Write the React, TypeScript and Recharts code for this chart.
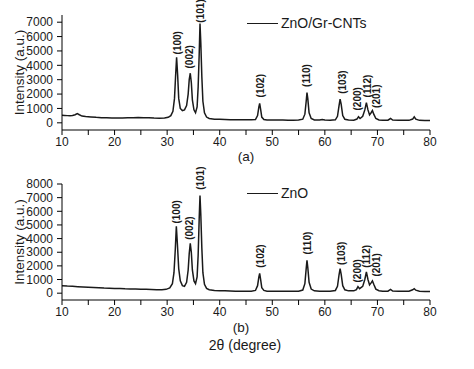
import React from 'react';
import { LineChart, Line, XAxis, YAxis, ReferenceDot, Legend } from 'recharts';

// 2θ positions and intensities (a) ZnO/Gr-CNTs
const twoThetaA = [
  10, 10.5, 11, 11.5, 12, 12.5, 12.9, 13.3, 13.8, 14.5, 15.5, 16.5, 17.5, 18.5, 19.5, 20.5, 21.5, 22.5, 23.5, 24.5,
  25.5, 26.5, 27.5, 28.5, 29.5, 30.2, 30.7, 31.1, 31.4, 31.6, 31.8, 32, 32.2, 32.5, 32.9, 33.3, 33.7, 34, 34.2, 34.4,
  34.6, 34.8, 35.1, 35.4, 35.7, 35.9, 36.1, 36.25, 36.4, 36.6, 36.8, 37.1, 37.5, 38, 39, 40, 41, 42, 43, 44,
  45, 46, 46.8, 47.2, 47.45, 47.6, 47.8, 48, 48.4, 49, 50, 51, 52, 53, 54, 55, 55.8, 56.2, 56.45, 56.6,
  56.75, 57, 57.4, 58, 59, 59.5, 60, 61, 62, 62.4, 62.7, 62.9, 63.1, 63.4, 63.8, 64.5, 65.5, 66.1, 66.4, 66.7,
  67.2, 67.6, 67.9, 68.2, 68.5, 68.8, 69.05, 69.3, 69.7, 70.3, 71, 72, 72.5, 72.9, 74, 75, 76, 76.7, 77, 77.3,
  78, 79, 80,
];
const intensityA = [
  520, 510, 500, 490, 510, 560, 640, 560, 470, 440, 410, 380, 360, 350, 340, 330, 340, 350, 360, 370,
  360, 350, 330, 320, 330, 380, 500, 800, 1700, 3200, 4550, 3300, 1700, 1000, 850, 900, 1200, 2000, 3000, 3450,
  2800, 1600, 900, 700, 1100, 2500, 4800, 6900, 5600, 3200, 1500, 700, 400, 300, 250, 240, 230, 220, 215, 210,
  210, 205, 230, 500, 1100, 1350, 900, 400, 230, 200, 195, 190, 190, 185, 185, 190, 250, 600, 1500, 2100,
  1700, 700, 300, 200, 190, 230, 190, 180, 210, 450, 1200, 1650, 1300, 500, 250, 190, 185, 260, 420, 300,
  450, 900, 1400, 900, 550, 700, 850, 600, 300, 200, 180, 180, 300, 190, 170, 170, 170, 260, 420, 250,
  170, 160, 160,
];

// panel (b) ZnO
const twoThetaB = [
  10, 11, 12, 13, 14, 15, 16, 17, 18, 19, 20, 21, 22, 23, 24, 25, 26, 27, 28, 29,
  29.8, 30.5, 31, 31.3, 31.55, 31.75, 31.95, 32.2, 32.5, 32.9, 33.3, 33.7, 34, 34.2, 34.4, 34.6, 34.8, 35.1, 35.4, 35.7,
  35.9, 36.1, 36.25, 36.4, 36.6, 36.8, 37.1, 37.5, 38, 39, 40, 41, 42, 43, 44, 45, 46, 46.8, 47.2, 47.45,
  47.6, 47.8, 48, 48.4, 49, 50, 51, 52, 53, 54, 55, 55.8, 56.2, 56.45, 56.6, 56.75, 57, 57.4, 58, 59,
  60, 61, 62, 62.4, 62.7, 62.9, 63.1, 63.4, 63.8, 64.5, 65.5, 66, 66.3, 66.6, 67.2, 67.6, 67.9, 68.2, 68.5, 68.8,
  69.05, 69.3, 69.7, 70.3, 71, 72, 72.5, 72.9, 74, 75, 76, 76.7, 77, 77.3, 78, 79, 80,
];
const intensityB = [
  550, 520, 500, 480, 460, 440, 420, 400, 380, 370, 350, 340, 320, 310, 300, 290, 280, 270, 260, 260,
  280, 380, 700, 1500, 3200, 4900, 3600, 1800, 900, 550, 500, 800, 1700, 2900, 3650, 3000, 1700, 900, 700, 1200,
  2800, 5500, 7150, 5800, 3300, 1500, 650, 350, 250, 200, 180, 170, 160, 150, 150, 150, 150, 200, 550, 1200,
  1450, 950, 400, 200, 150, 140, 140, 135, 135, 140, 145, 230, 700, 1800, 2400, 1900, 800, 300, 170, 150,
  150, 150, 200, 500, 1350, 1800, 1400, 550, 250, 170, 170, 260, 480, 330, 500, 1000, 1550, 1000, 600, 750,
  900, 650, 300, 180, 150, 150, 280, 160, 140, 140, 150, 250, 330, 220, 140, 130, 130,
];

// peak labels: Miller index, 2θ of label, intensity at label base
const hklNames = ['(100)', '(002)', '(101)', '(102)', '(110)', '(103)', '(200)', '(112)', '(201)'];
const labelThetaA = [31.9, 34.2, 36.4, 47.8, 56.6, 63.4, 66.3, 68.15, 69.9];
const labelIntensityA = [4690, 3710, 6900, 1700, 2430, 1950, 790, 1700, 970];
const labelThetaB = [31.8, 34.2, 36.4, 47.8, 56.7, 63.1, 66.3, 68.0, 69.9];
const labelIntensityB = [5030, 3840, 7500, 1790, 2760, 2000, 710, 1790, 1145];

const xTicks = [10, 15, 20, 25, 30, 35, 40, 45, 50, 55, 60, 65, 70, 75, 80];
const yTicksA = [0, 1000, 2000, 3000, 4000, 5000, 6000, 7000];
const yTicksB = [0, 1000, 2000, 3000, 4000, 5000, 6000, 7000, 8000];

const dataA = twoThetaA.map((x, i) => ({ x, y: intensityA[i] }));
const dataB = twoThetaB.map((x, i) => ({ x, y: intensityB[i] }));

const FONT = '"Liberation Sans", Arial, sans-serif';
const INK = '#1a1a1a';

const PeakLabel = (text: string) => (props: any) => {
  const { x, y } = props.viewBox;
  return (
    <text x={x} y={y - 1} dy="0.35em" transform={`rotate(-90 ${x} ${y - 1})`} fontSize={10}
      fontWeight="bold" fill={INK} textAnchor="start" fontFamily={FONT}>
      {text}
    </text>
  );
};

const YTitle = (props: any) => {
  const { x, y, height } = props.viewBox;
  const cx = x + 19;
  const cy = y + height / 2;
  return (
    <text x={cx} y={cy} dy="0.35em" transform={`rotate(-90 ${cx} ${cy})`} textAnchor="middle"
      fontSize={13.5} fill={INK} fontFamily={FONT}>
      Intensity (a.u.)
    </text>
  );
};

const SeriesLegend = (name: string) => () => (
  <div style={{ display: 'flex', alignItems: 'center', fontFamily: FONT, fontSize: 14, color: INK, lineHeight: '16px' }}>
    <span style={{ display: 'inline-block', width: 31, borderTop: `1.5px solid ${INK}`, marginRight: 3 }} />
    <span>{name}</span>
  </div>
);

const BottomTitleB = (props: any) => {
  const { x, y, width } = props.viewBox;
  const cx = x + width / 2 - 1;
  return (
    <g fontFamily={FONT} fill={INK} textAnchor="middle">
      <text x={cx - 4} y={y + 27} dy="0.35em" fontSize={13.5}>(b)</text>
      <text x={cx} y={y + 45} dy="0.35em" fontSize={14}>2θ (degree)</text>
    </g>
  );
};

const tickStyle = { fill: INK, fontSize: 12, fontFamily: FONT };
const fmtX = (v: number) => (v % 10 === 0 ? String(v) : '');

export default function App() {
  return (
    <div style={{ position: 'absolute', left: 0, top: 0, width: 474, height: 369, background: '#fff', fontFamily: FONT }}>
      <div style={{ position: 'absolute', left: 0, top: 0 }}>
        <LineChart width={474} height={180} data={dataA} margin={{ top: 15, right: 44, left: 0, bottom: 0 }}>
          <XAxis dataKey="x" type="number" domain={[10, 80]} ticks={xTicks} tickFormatter={fmtX}
            height={34} tickSize={5} tick={tickStyle} stroke="#000" interval={0}
            label={{ value: '(a)', position: 'insideBottom', offset: 3, fontSize: 13.5, fill: INK }} />
          <YAxis type="number" domain={[-500, 7500]} ticks={yTicksA} width={62} tickSize={5} tickMargin={4}
            tick={tickStyle} stroke="#000" interval={0} allowDataOverflow label={{ content: YTitle }} />
          <Legend content={SeriesLegend('ZnO/Gr-CNTs')} wrapperStyle={{ left: 247, top: 15, width: 'auto' }} />
          <Line type="linear" dataKey="y" name="ZnO/Gr-CNTs" stroke={INK} strokeWidth={1.5} dot={false}
            isAnimationActive={false} />
          {hklNames.map((h, i) => (
            <ReferenceDot key={h} x={labelThetaA[i]} y={labelIntensityA[i]} r={0} fill="none" stroke="none"
              label={{ content: PeakLabel(h) }} />
          ))}
        </LineChart>
      </div>
      <div style={{ position: 'absolute', left: 0, top: 160 }}>
        <LineChart width={474} height={209} data={dataB} margin={{ top: 24, right: 44, left: 0, bottom: 0 }}>
          <XAxis dataKey="x" type="number" domain={[10, 80]} ticks={xTicks} tickFormatter={fmtX}
            height={53} tickSize={5} tick={tickStyle} stroke="#000" interval={0}
            label={{ content: BottomTitleB }} />
          <YAxis type="number" domain={[-500, 8000]} ticks={yTicksB} width={62} tickSize={5} tickMargin={4}
            tick={tickStyle} stroke="#000" interval={0} allowDataOverflow label={{ content: YTitle }} />
          <Legend content={SeriesLegend('ZnO')} wrapperStyle={{ left: 247, top: 25, width: 'auto' }} />
          <Line type="linear" dataKey="y" name="ZnO" stroke={INK} strokeWidth={1.5} dot={false}
            isAnimationActive={false} />
          {hklNames.map((h, i) => (
            <ReferenceDot key={h} x={labelThetaB[i]} y={labelIntensityB[i]} r={0} fill="none" stroke="none"
              label={{ content: PeakLabel(h) }} />
          ))}
        </LineChart>
      </div>
    </div>
  );
}
